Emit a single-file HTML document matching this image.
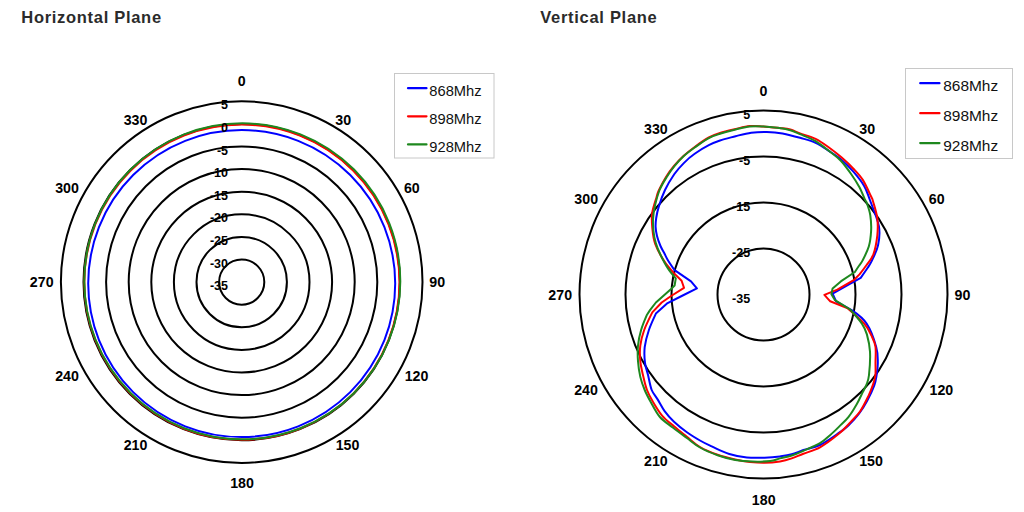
<!DOCTYPE html>
<html><head><meta charset="utf-8"><style>
html,body{margin:0;padding:0;background:#fff;width:1024px;height:512px;overflow:hidden}
svg{position:absolute;left:0;top:0}
text{font-family:"Liberation Sans",sans-serif}
.t{position:absolute;font-family:"Liberation Sans",sans-serif;font-weight:bold;color:#2b2b2b;font-size:16.5px;letter-spacing:0.7px;white-space:nowrap}
</style></head><body>
<div class="t" style="left:21.3px;top:8.3px">Horizontal Plane</div>
<div class="t" style="left:540.3px;top:8.3px">Vertical Plane</div>
<svg width="1024" height="512" viewBox="0 0 1024 512">
<circle cx="241.7" cy="282.1" r="180.80" fill="none" stroke="#000" stroke-width="2"/>
<circle cx="241.7" cy="282.1" r="158.20" fill="none" stroke="#000" stroke-width="2"/>
<circle cx="241.7" cy="282.1" r="135.60" fill="none" stroke="#000" stroke-width="2"/>
<circle cx="241.7" cy="282.1" r="113.00" fill="none" stroke="#000" stroke-width="2"/>
<circle cx="241.7" cy="282.1" r="90.40" fill="none" stroke="#000" stroke-width="2"/>
<circle cx="241.7" cy="282.1" r="67.80" fill="none" stroke="#000" stroke-width="2"/>
<circle cx="241.7" cy="282.1" r="45.20" fill="none" stroke="#000" stroke-width="2"/>
<circle cx="241.7" cy="282.1" r="22.60" fill="none" stroke="#000" stroke-width="2"/>
<circle cx="241.9" cy="282.2" r="157.6" fill="none" stroke="#f00" stroke-width="2"/>
<circle cx="242.3" cy="281.3" r="158" fill="none" stroke="#1e881e" stroke-width="2"/>
<circle cx="241.7" cy="283.6" r="153.5" fill="none" stroke="#00f" stroke-width="2"/>
<text x="228.0" y="109.4" font-size="12.5" font-weight="bold" text-anchor="end" fill="#000" >5</text>
<text x="228.0" y="132.0" font-size="12.5" font-weight="bold" text-anchor="end" fill="#000" >0</text>
<text x="228.0" y="154.6" font-size="12.5" font-weight="bold" text-anchor="end" fill="#000" >-5</text>
<text x="228.0" y="177.2" font-size="12.5" font-weight="bold" text-anchor="end" fill="#000" >-10</text>
<text x="228.0" y="199.8" font-size="12.5" font-weight="bold" text-anchor="end" fill="#000" >-15</text>
<text x="228.0" y="222.4" font-size="12.5" font-weight="bold" text-anchor="end" fill="#000" >-20</text>
<text x="228.0" y="245.0" font-size="12.5" font-weight="bold" text-anchor="end" fill="#000" >-25</text>
<text x="228.0" y="267.6" font-size="12.5" font-weight="bold" text-anchor="end" fill="#000" >-30</text>
<text x="228.0" y="290.2" font-size="12.5" font-weight="bold" text-anchor="end" fill="#000" >-35</text>
<text x="241.7" y="85.8" font-size="14.6" font-weight="bold" text-anchor="middle" fill="#000" textLength="7.9" lengthAdjust="spacingAndGlyphs">0</text>
<text x="343.2" y="124.5" font-size="14.6" font-weight="bold" text-anchor="middle" fill="#000" textLength="15.8" lengthAdjust="spacingAndGlyphs">30</text>
<text x="411.8" y="193.1" font-size="14.6" font-weight="bold" text-anchor="middle" fill="#000" textLength="15.8" lengthAdjust="spacingAndGlyphs">60</text>
<text x="437.2" y="287.3" font-size="14.6" font-weight="bold" text-anchor="middle" fill="#000" textLength="15.8" lengthAdjust="spacingAndGlyphs">90</text>
<text x="416.5" y="381.2" font-size="14.6" font-weight="bold" text-anchor="middle" fill="#000" textLength="23.7" lengthAdjust="spacingAndGlyphs">120</text>
<text x="347.5" y="450.1" font-size="14.6" font-weight="bold" text-anchor="middle" fill="#000" textLength="23.7" lengthAdjust="spacingAndGlyphs">150</text>
<text x="242.0" y="488.2" font-size="14.6" font-weight="bold" text-anchor="middle" fill="#000" textLength="23.7" lengthAdjust="spacingAndGlyphs">180</text>
<text x="135.5" y="450.1" font-size="14.6" font-weight="bold" text-anchor="middle" fill="#000" textLength="23.7" lengthAdjust="spacingAndGlyphs">210</text>
<text x="67.0" y="381.2" font-size="14.6" font-weight="bold" text-anchor="middle" fill="#000" textLength="23.7" lengthAdjust="spacingAndGlyphs">240</text>
<text x="41.7" y="287.3" font-size="14.6" font-weight="bold" text-anchor="middle" fill="#000" textLength="23.7" lengthAdjust="spacingAndGlyphs">270</text>
<text x="67.0" y="193.1" font-size="14.6" font-weight="bold" text-anchor="middle" fill="#000" textLength="23.7" lengthAdjust="spacingAndGlyphs">300</text>
<text x="135.5" y="124.5" font-size="14.6" font-weight="bold" text-anchor="middle" fill="#000" textLength="23.7" lengthAdjust="spacingAndGlyphs">330</text>
<rect x="394.5" y="73.5" width="99.5" height="84.5" fill="#fff" stroke="#c8c8c8" stroke-width="1"/>
<line x1="408" y1="88.2" x2="426.5" y2="88.2" stroke="#00f" stroke-width="2.2" stroke-linecap="round"/>
<text x="429.3" y="95.6" font-size="15" font-weight="normal" text-anchor="start" fill="#111" textLength="52.3" lengthAdjust="spacingAndGlyphs">868Mhz</text>
<line x1="408" y1="116.3" x2="426.5" y2="116.3" stroke="#f00" stroke-width="2.2" stroke-linecap="round"/>
<text x="429.3" y="123.7" font-size="15" font-weight="normal" text-anchor="start" fill="#111" textLength="52.3" lengthAdjust="spacingAndGlyphs">898Mhz</text>
<line x1="408" y1="144.4" x2="426.5" y2="144.4" stroke="#1e881e" stroke-width="2.2" stroke-linecap="round"/>
<text x="429.3" y="151.8" font-size="15" font-weight="normal" text-anchor="start" fill="#111" textLength="52.3" lengthAdjust="spacingAndGlyphs">928Mhz</text>
<circle cx="763.5" cy="294.5" r="184.00" fill="none" stroke="#000" stroke-width="2"/>
<circle cx="763.5" cy="294.5" r="138.00" fill="none" stroke="#000" stroke-width="2"/>
<circle cx="763.5" cy="294.5" r="92.00" fill="none" stroke="#000" stroke-width="2"/>
<circle cx="763.5" cy="294.5" r="46.00" fill="none" stroke="#000" stroke-width="2"/>
<text x="750.2" y="118.6" font-size="12.5" font-weight="bold" text-anchor="end" fill="#000" >5</text>
<text x="750.2" y="164.6" font-size="12.5" font-weight="bold" text-anchor="end" fill="#000" >-5</text>
<text x="750.2" y="210.6" font-size="12.5" font-weight="bold" text-anchor="end" fill="#000" >-15</text>
<text x="750.2" y="256.6" font-size="12.5" font-weight="bold" text-anchor="end" fill="#000" >-25</text>
<text x="750.2" y="302.6" font-size="12.5" font-weight="bold" text-anchor="end" fill="#000" >-35</text>
<text x="763.4" y="95.8" font-size="14.6" font-weight="bold" text-anchor="middle" fill="#000" textLength="7.9" lengthAdjust="spacingAndGlyphs">0</text>
<text x="867.2" y="134.3" font-size="14.6" font-weight="bold" text-anchor="middle" fill="#000" textLength="15.8" lengthAdjust="spacingAndGlyphs">30</text>
<text x="936.7" y="203.9" font-size="14.6" font-weight="bold" text-anchor="middle" fill="#000" textLength="15.8" lengthAdjust="spacingAndGlyphs">60</text>
<text x="962.5" y="300.3" font-size="14.6" font-weight="bold" text-anchor="middle" fill="#000" textLength="15.8" lengthAdjust="spacingAndGlyphs">90</text>
<text x="941.4" y="395.3" font-size="14.6" font-weight="bold" text-anchor="middle" fill="#000" textLength="23.7" lengthAdjust="spacingAndGlyphs">120</text>
<text x="871.0" y="465.6" font-size="14.6" font-weight="bold" text-anchor="middle" fill="#000" textLength="23.7" lengthAdjust="spacingAndGlyphs">150</text>
<text x="763.7" y="504.6" font-size="14.6" font-weight="bold" text-anchor="middle" fill="#000" textLength="23.7" lengthAdjust="spacingAndGlyphs">180</text>
<text x="655.9" y="465.6" font-size="14.6" font-weight="bold" text-anchor="middle" fill="#000" textLength="23.7" lengthAdjust="spacingAndGlyphs">210</text>
<text x="586.0" y="395.3" font-size="14.6" font-weight="bold" text-anchor="middle" fill="#000" textLength="23.7" lengthAdjust="spacingAndGlyphs">240</text>
<text x="560.2" y="300.3" font-size="14.6" font-weight="bold" text-anchor="middle" fill="#000" textLength="23.7" lengthAdjust="spacingAndGlyphs">270</text>
<text x="586.2" y="203.7" font-size="14.6" font-weight="bold" text-anchor="middle" fill="#000" textLength="23.7" lengthAdjust="spacingAndGlyphs">300</text>
<text x="655.9" y="134.1" font-size="14.6" font-weight="bold" text-anchor="middle" fill="#000" textLength="23.7" lengthAdjust="spacingAndGlyphs">330</text>
<rect x="905.5" y="68.5" width="107" height="90" fill="#fff" stroke="#c8c8c8" stroke-width="1"/>
<line x1="920.2" y1="83.2" x2="939.5" y2="83.2" stroke="#00f" stroke-width="2.2" stroke-linecap="round"/>
<text x="943.2" y="91.2" font-size="15.5" font-weight="normal" text-anchor="start" fill="#111" textLength="55" lengthAdjust="spacingAndGlyphs">868Mhz</text>
<line x1="920.2" y1="113.2" x2="939.5" y2="113.2" stroke="#f00" stroke-width="2.2" stroke-linecap="round"/>
<text x="943.2" y="121.2" font-size="15.5" font-weight="normal" text-anchor="start" fill="#111" textLength="55" lengthAdjust="spacingAndGlyphs">898Mhz</text>
<line x1="920.2" y1="143.1" x2="939.5" y2="143.1" stroke="#1e881e" stroke-width="2.2" stroke-linecap="round"/>
<text x="943.2" y="151.1" font-size="15.5" font-weight="normal" text-anchor="start" fill="#111" textLength="55" lengthAdjust="spacingAndGlyphs">928Mhz</text>
<path d="M766.9,131.9 C772.1,132.0 777.0,132.4 782.5,133.4 C788.0,134.4 794.5,136.2 800.0,137.8 C805.5,139.4 810.6,140.5 815.6,142.8 C820.6,145.1 825.6,148.8 830.0,151.7 C834.4,154.5 837.8,156.6 841.7,159.9 C845.6,163.2 849.7,167.4 853.4,171.7 C857.1,176.0 861.2,181.0 864.0,185.7 C866.8,190.4 867.4,193.2 869.9,200.0 C872.4,206.8 877.5,218.8 878.9,226.2 C880.3,233.8 879.3,239.3 878.1,245.0 C876.9,250.7 873.7,256.8 871.9,260.6 C870.1,264.4 869.4,265.1 867.5,268.0 C865.6,270.9 860.7,277.9 860.7,277.9 C860.7,277.9 849.0,284.3 849.0,284.3 C849.0,284.3 832.6,293.7 832.6,293.7 C832.6,293.7 836.1,301.3 836.1,301.3 C836.1,301.3 852.5,310.7 852.5,310.7 C852.5,310.7 862.6,317.6 866.6,323.6 C870.6,329.6 874.4,340.4 876.2,346.9 C878.1,353.4 877.7,357.8 877.8,362.5 C877.9,367.2 877.2,371.1 876.6,375.0 C876.0,378.9 875.8,381.3 874.2,385.6 C872.6,389.9 869.7,396.1 867.2,400.8 C864.7,405.5 862.1,409.6 859.0,413.7 C855.9,417.8 851.9,422.1 848.4,425.4 C844.9,428.7 842.6,430.3 837.9,433.6 C833.2,436.9 825.8,442.3 820.0,445.0 C814.2,447.7 808.1,448.4 803.4,450.0 C798.7,451.6 795.6,453.2 791.7,454.3 C787.8,455.4 784.5,455.8 780.0,456.4 C775.5,457.0 770.0,457.5 764.5,457.7 C759.0,457.9 752.8,458.1 746.9,457.5 C741.0,456.9 735.2,455.9 729.3,454.0 C723.4,452.1 716.6,448.6 711.7,446.4 C706.8,444.1 704.1,442.9 700.0,440.5 C695.9,438.1 691.2,435.3 686.9,432.2 C682.6,429.1 677.7,425.2 674.0,421.7 C670.3,418.2 667.3,414.8 664.6,411.1 C661.9,407.4 659.8,402.9 657.6,399.4 C655.5,395.9 653.3,394.0 651.7,390.0 C650.1,386.0 649.2,379.8 648.1,375.3 C647.0,370.8 645.6,367.5 645.0,362.8 C644.4,358.1 644.1,352.7 644.7,347.2 C645.4,341.7 647.0,335.6 648.9,330.0 C650.8,324.4 655.9,313.6 655.9,313.6 C655.9,313.6 667.6,303.1 667.6,303.1 C667.6,303.1 681.7,296.0 681.7,296.0 C681.7,296.0 696.9,288.4 696.9,288.4 C696.9,288.4 691.0,281.4 691.0,281.4 C691.0,281.4 674.6,270.2 674.6,270.2 C674.6,270.2 669.3,262.6 667.6,259.7 C665.9,256.8 665.4,255.3 664.2,253.0 C663.0,250.7 661.7,248.8 660.5,246.0 C659.3,243.2 657.8,239.2 657.0,236.0 C656.2,232.8 655.7,229.9 655.6,226.9 C655.5,223.9 655.7,221.4 656.2,218.0 C656.7,214.6 657.3,211.3 658.8,206.6 C660.2,201.9 662.4,195.4 665.0,190.0 C667.6,184.6 671.3,178.5 674.4,174.0 C677.5,169.5 680.4,166.5 683.8,163.1 C687.1,159.7 690.5,156.7 694.7,153.8 C698.9,150.8 704.5,147.4 708.8,145.2 C713.0,143.0 715.5,142.0 720.0,140.5 C724.5,139.0 730.4,137.6 735.6,136.2 C740.8,134.9 746.0,133.4 751.2,132.7 C756.5,132.0 761.7,131.8 766.9,131.9Z" fill="none" stroke="#0000ff" stroke-width="2" stroke-linejoin="round"/>
<path d="M779.4,128.0 C783.9,128.5 786.9,128.6 790.3,129.5 C793.7,130.4 795.8,131.8 800.0,133.4 C804.2,135.0 810.6,136.4 815.6,138.9 C820.6,141.4 825.6,145.1 830.0,148.2 C834.4,151.3 837.8,154.2 841.7,157.6 C845.6,161.0 849.9,165.0 853.4,168.7 C856.9,172.4 859.9,175.3 862.8,179.9 C865.7,184.5 869.3,192.7 871.0,196.3 C872.7,199.9 872.0,197.6 873.0,201.2 C874.0,204.9 876.6,212.7 877.3,218.4 C878.0,224.1 877.9,229.6 877.3,235.6 C876.6,241.6 875.2,249.5 873.4,254.4 C871.6,259.3 868.9,261.7 866.6,265.0 C864.3,268.3 859.5,274.4 859.5,274.4 C859.5,274.4 853.7,280.2 853.7,280.2 C853.7,280.2 837.3,289.6 837.3,289.6 C837.3,289.6 824.4,294.9 824.4,294.9 C824.4,294.9 830.2,301.3 830.2,301.3 C830.2,301.3 847.8,308.4 847.8,308.4 C847.8,308.4 860.2,319.0 864.2,323.6 C868.2,328.2 869.7,332.0 871.6,335.9 C873.5,339.8 874.9,342.5 875.5,346.9 C876.1,351.3 875.5,357.8 875.5,362.5 C875.5,367.2 875.8,371.4 875.4,375.0 C875.0,378.6 874.3,380.9 873.1,384.4 C871.9,387.9 870.5,391.6 868.4,396.1 C866.2,400.6 863.1,407.0 860.2,411.3 C857.3,415.6 854.3,418.2 850.8,421.9 C847.3,425.6 844.2,429.4 839.1,433.6 C834.0,437.8 826.0,444.0 820.0,447.3 C814.0,450.6 808.1,451.9 803.4,453.7 C798.7,455.5 795.6,457.1 791.7,458.4 C787.8,459.7 784.5,460.7 780.0,461.4 C775.5,462.1 769.5,462.7 764.5,462.8 C759.5,462.9 754.9,462.5 750.0,462.0 C745.1,461.5 740.6,460.8 735.2,459.6 C729.8,458.4 723.5,456.9 717.6,454.8 C711.7,452.7 705.1,450.0 700.0,447.0 C694.9,444.0 691.2,440.3 686.9,436.9 C682.6,433.4 678.1,429.8 674.0,426.3 C669.9,422.8 665.8,419.9 662.3,415.8 C658.8,411.7 655.4,406.0 652.9,401.7 C650.4,397.4 648.6,394.1 647.0,390.0 C645.4,385.9 644.5,381.7 643.4,376.9 C642.3,372.1 640.8,366.5 640.3,361.2 C639.8,356.0 639.6,350.8 640.3,345.6 C640.9,340.4 642.2,335.5 644.2,330.0 C646.2,324.5 652.3,312.4 652.3,312.4 C652.3,312.4 661.7,302.5 661.7,302.5 C661.7,302.5 671.1,296.0 671.1,296.0 C671.1,296.0 684.0,287.8 684.0,287.8 C684.0,287.8 681.6,280.8 681.6,280.8 C681.6,280.8 673.4,272.6 673.4,272.6 C673.4,272.6 667.0,265.7 664.0,260.9 C661.0,256.1 657.2,249.5 655.2,244.0 C653.2,238.5 652.8,233.2 652.3,228.0 C651.8,222.8 651.5,218.2 652.2,213.0 C652.9,207.8 655.5,200.8 656.6,197.0 C657.7,193.2 657.4,193.3 659.0,190.0 C660.6,186.7 663.5,181.0 666.0,177.0 C668.5,173.0 671.1,169.5 674.0,166.0 C676.9,162.5 680.0,159.2 683.5,156.0 C687.0,152.8 690.5,150.1 694.7,147.0 C698.9,143.9 704.5,139.8 708.8,137.5 C713.0,135.2 715.5,134.4 720.0,133.0 C724.5,131.6 730.6,130.2 735.6,129.0 C740.6,127.8 745.1,126.4 749.7,126.0 C754.3,125.6 758.0,126.1 763.0,126.4 C768.0,126.7 774.9,127.5 779.4,128.0Z" fill="none" stroke="#ff0000" stroke-width="2" stroke-linejoin="round"/>
<path d="M763.8,126.4 C768.7,126.7 775.0,127.3 779.4,128.0 C783.8,128.7 786.9,129.3 790.3,130.3 C793.7,131.3 795.8,132.4 800.0,134.2 C804.2,136.0 810.6,138.3 815.6,141.2 C820.6,144.2 825.8,148.5 830.0,151.7 C834.2,154.9 837.1,156.8 840.6,160.5 C844.1,164.2 848.0,169.6 851.1,174.0 C854.2,178.4 856.9,182.6 859.3,186.9 C861.6,191.2 864.0,197.3 865.2,200.0 C866.4,202.7 865.9,200.2 866.7,202.8 C867.6,205.4 869.6,210.6 870.3,215.3 C871.0,220.0 871.4,225.8 871.1,231.0 C870.8,236.2 870.2,241.7 868.8,246.6 C867.3,251.5 864.2,257.3 862.5,260.6 C860.8,263.9 859.8,264.6 858.5,266.5 C857.2,268.4 854.9,272.0 854.9,272.0 C854.9,272.0 840.8,281.4 840.8,281.4 C840.8,281.4 832.6,288.4 832.6,288.4 C832.6,288.4 831.4,294.3 831.4,294.3 C831.4,294.3 835.0,300.2 835.0,300.2 C835.0,300.2 850.2,309.5 850.2,309.5 C850.2,309.5 859.1,319.5 861.9,323.6 C864.7,327.8 865.5,329.7 866.9,334.4 C868.2,339.1 869.6,344.8 870.0,351.6 C870.4,358.4 869.6,369.5 869.0,375.0 C868.4,380.5 867.7,381.5 866.6,384.4 C865.5,387.3 864.1,389.3 862.5,392.6 C860.9,395.9 859.1,400.2 856.7,404.3 C854.4,408.4 851.3,413.5 848.4,417.2 C845.5,420.9 842.1,423.6 839.1,426.6 C836.1,429.6 833.5,432.2 830.3,435.0 C827.1,437.8 824.5,440.6 820.0,443.2 C815.5,445.8 808.1,448.8 803.4,450.8 C798.7,452.9 795.6,454.2 791.7,455.5 C787.8,456.8 783.6,457.5 780.0,458.4 C776.4,459.3 774.8,460.5 770.3,461.0 C765.8,461.5 758.6,461.8 752.8,461.6 C746.9,461.4 741.1,461.0 735.2,459.9 C729.3,458.8 723.5,457.3 717.6,455.2 C711.7,453.1 705.1,450.4 700.0,447.5 C694.9,444.6 691.4,441.3 686.9,438.0 C682.4,434.7 677.3,431.0 672.8,427.5 C668.3,424.0 663.6,421.3 659.9,417.0 C656.2,412.7 653.1,406.2 650.6,401.7 C648.1,397.2 646.4,394.1 644.7,390.0 C643.0,385.9 641.4,381.7 640.3,376.9 C639.2,372.1 638.4,366.5 638.0,361.2 C637.6,356.0 637.5,350.8 638.0,345.6 C638.5,340.4 639.6,335.1 641.1,330.0 C642.6,324.9 647.0,314.7 647.0,314.7 C647.0,314.7 650.0,310.1 650.0,310.1 C650.0,310.1 655.9,302.5 655.9,302.5 C655.9,302.5 671.1,289.0 671.1,289.0 C671.1,289.0 674.6,285.5 674.6,285.5 C674.6,285.5 675.8,278.4 675.8,278.4 C675.8,278.4 670.1,271.8 667.6,267.9 C665.1,264.0 662.6,259.1 660.6,255.0 C658.6,250.9 657.0,247.2 655.8,243.1 C654.6,239.0 653.8,234.8 653.4,230.6 C653.0,226.4 652.8,222.3 653.1,218.1 C653.4,213.9 653.9,210.3 655.0,205.6 C656.1,200.9 657.7,194.7 659.6,190.0 C661.5,185.3 664.1,181.2 666.6,177.2 C669.1,173.2 671.5,169.8 674.4,166.2 C677.3,162.7 680.4,159.2 683.8,156.1 C687.1,153.0 690.5,150.5 694.7,147.5 C698.9,144.5 704.5,140.4 708.8,138.1 C713.0,135.8 715.5,135.2 720.0,133.8 C724.5,132.4 730.6,130.7 735.6,129.5 C740.6,128.3 745.0,126.9 749.7,126.4 C754.4,125.9 758.8,126.1 763.8,126.4Z" fill="none" stroke="#1e881e" stroke-width="2" stroke-linejoin="round"/>
</svg>
</body></html>
